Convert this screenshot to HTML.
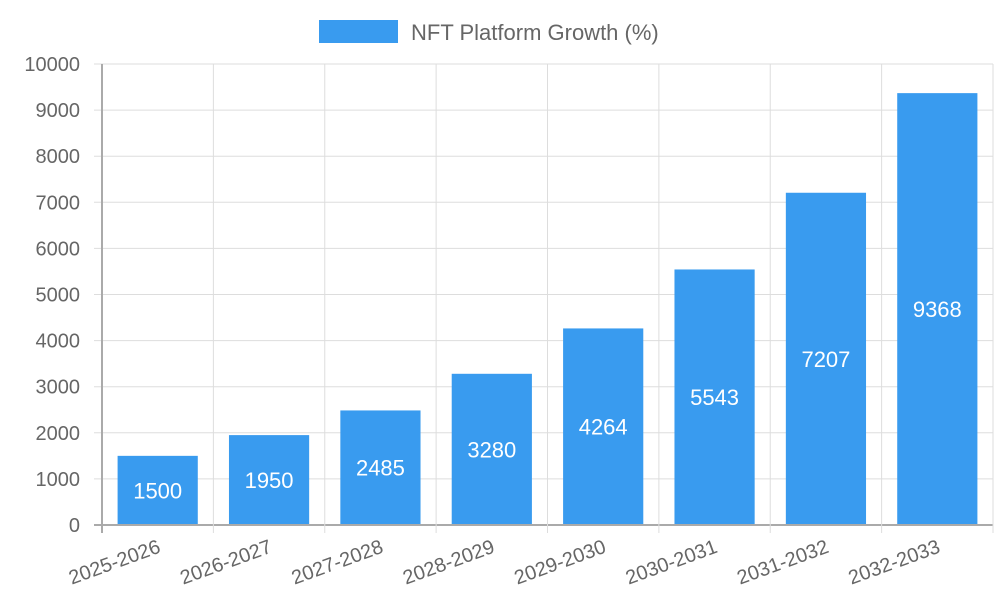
<!DOCTYPE html>
<html><head><meta charset="utf-8"><style>body{margin:0;background:#fff}svg{display:block;font-family:"Liberation Sans",sans-serif}</style></head>
<body>
<svg id="c" width="1000" height="600">
<rect x="319" y="20" width="79" height="23" fill="#399bef"/>
<text x="411" y="40" font-size="22" fill="#666">NFT Platform Growth (%)</text>
</svg>
<script>
const categories=["2025-2026","2026-2027","2027-2028","2028-2029","2029-2030","2030-2031","2031-2032","2032-2033"];
const values=[1500,1950,2485,3280,4264,5543,7207,9368];
const yTicks=[0,1000,2000,3000,4000,5000,6000,7000,8000,9000,10000];
const svg=document.getElementById('c');const NS='http://www.w3.org/2000/svg';
const L=102,R=993,T=64,B=525,yMax=10000;
const y=v=>B-(v/yMax)*(B-T);const bw=(R-L)/categories.length;const x=i=>L+i*bw;
function mk(t,a,p){const e=document.createElementNS(NS,t);for(const k in a)e.setAttribute(k,a[k]);(p||svg).appendChild(e);return e;}
yTicks.forEach(v=>{
 const g=mk('line',{x1:94,x2:R,y1:y(v),y2:y(v),stroke:v===0?'#aaa':'#ddd','stroke-width':v===0?2:1});
 
 
 const t=mk('text',{x:80,y:y(v)+7,'text-anchor':'end','font-size':20,fill:'#666'});t.textContent=v;
 
 
});
for(let i=0;i<=categories.length;i++){
 const g=mk('line',{x1:x(i),x2:x(i),y1:T,y2:533,stroke:i===0?'#aaa':'#ddd','stroke-width':i===0?2:1});
 
 
}
categories.forEach((c,i)=>{
 const cx=x(i)+bw/2,w=bw*0.72;
 const r=mk('rect',{x:cx-w/2,y:y(values[i]),width:w,height:B-1-y(values[i]),fill:'#399bef'});
 
 
 const t=mk('text',{x:cx,y:(y(values[i])+B)/2+8,'text-anchor':'middle','font-size':22,fill:'#fff'});t.textContent=values[i];
 
 
 const xl=mk('text',{x:cx+4,y:552,'text-anchor':'end','font-size':20,fill:'#666',transform:`rotate(-20 ${cx+4} 552)`});xl.textContent=c;
 
 
});
</script>
</body></html>
